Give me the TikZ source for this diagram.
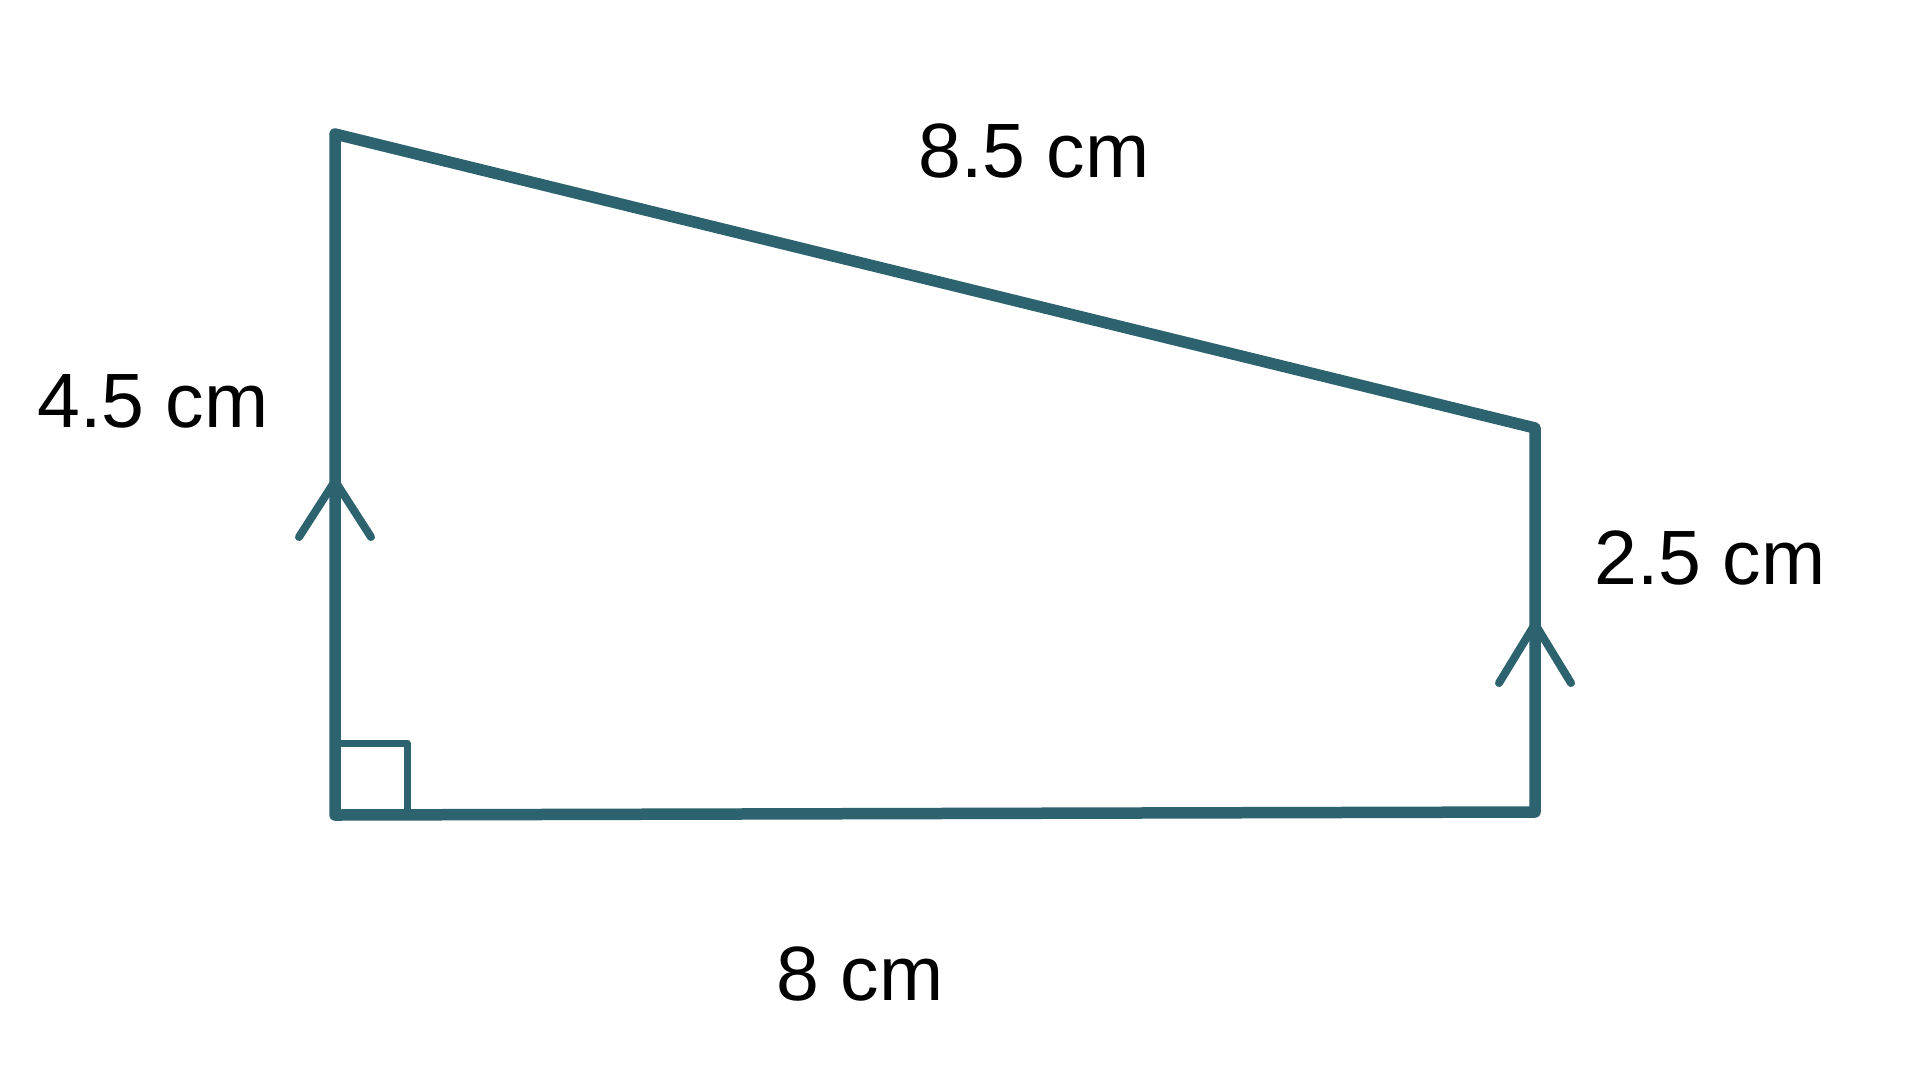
\documentclass[tikz,border=0pt]{standalone}
\usepackage{fontspec}
\setmainfont{Liberation Sans}
\definecolor{edge}{RGB}{45,99,110}
\tikzset{
  side/.style={draw=edge, line width=11.5pt, line join=round, line cap=round},
  tick/.style={draw=edge, line width=8pt, line cap=round, line join=round},
  corner/.style={draw=edge, line width=7pt, line join=round},
  lbl/.style={anchor=base, inner sep=0pt, font=\fontsize{77}{90}\selectfont, text=black}
}
\begin{document}
\begin{tikzpicture}[x=1pt,y=-1pt]
\useasboundingbox[fill=white] (0,0) rectangle (1910,1072);
% vertices
\coordinate (A) at (335,134);
\coordinate (B) at (1535,428);
\coordinate (C) at (1535,812);
\coordinate (D) at (335,815);
% right-angle mark
\coordinate (R1) at (335,743);
\coordinate (R2) at (407,743);
\coordinate (R3) at (407,814);
\draw[corner] (R1) -- (R2) -- (R3);
% shape
\draw[side] (A) -- (B) -- (C) -- (D) -- cycle;
% parallel arrows
\coordinate (LT) at (335,481);
\coordinate (LL) at (299,537);
\coordinate (LR) at (371,537);
\draw[tick] (LL) -- (LT) -- (LR);
\coordinate (RT) at (1535,624);
\coordinate (RL) at (1499,683);
\coordinate (RR) at (1571,683);
\draw[tick] (RL) -- (RT) -- (RR);
% labels
\node[lbl] (top) at (1034,177) {8.5 cm};
\node[lbl] (left) at (153,427) {4.5 cm};
\node[lbl] (right) at (1710,584) {2.5 cm};
\node[lbl] (bottom) at (860,1000) {8 cm};
\end{tikzpicture}
\end{document}
